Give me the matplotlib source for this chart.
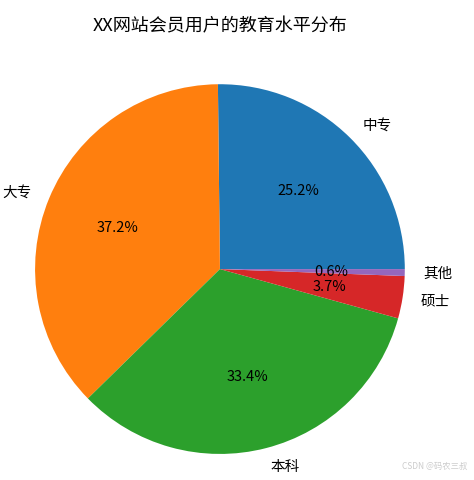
import matplotlib
matplotlib.use("Agg")
import matplotlib.pyplot as plt

plt.rcParams['font.family'] = ['Noto Sans CJK SC', 'DejaVu Sans']
plt.rcParams['axes.unicode_minus'] = False

labels = ['中专', '大专', '本科', '硕士', '其他']
values = [25.2, 37.2, 33.4, 3.7, 0.6]

fig = plt.figure(figsize=(4.74, 4.81), dpi=100)
ax = fig.add_axes([0.074, 0.054, 0.78, 0.769])
ax.pie(values, labels=labels, autopct='%.1f%%',
       textprops={'fontsize': 10.5})
ax.set_xlim(-1, 1)
ax.set_ylim(-1, 1)
ax.set_aspect('equal')
fig.text(0.465, 0.945, 'XX网站会员用户的教育水平分布', ha='center', va='center', fontsize=13)
fig.text(0.985, 0.02, 'CSDN @码农三叔', ha='right', va='bottom', fontsize=6, color='#cccccc')

fig.savefig('out.png', dpi=100)
